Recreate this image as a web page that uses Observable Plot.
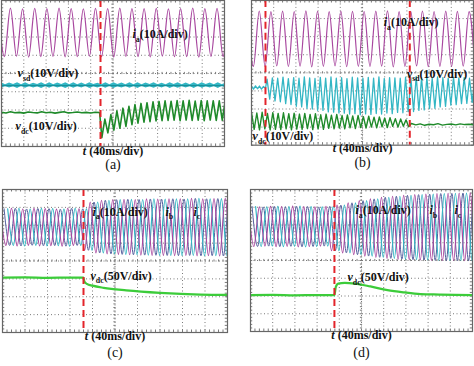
<!DOCTYPE html>
<html><head><meta charset="utf-8">
<script src="https://cdn.jsdelivr.net/npm/d3@7"></script>
<script src="https://cdn.jsdelivr.net/npm/@observablehq/plot@0.6"></script>
<style>
body{margin:0;background:#fff;}
#wrap{position:relative;width:474px;height:366px;overflow:hidden;background:#fff;}
.panel{position:absolute;}
.panel svg{display:block;}
.panel svg text{font-family:"Liberation Serif","Times New Roman",serif;}
</style></head><body><div id="wrap"></div>
<script>
// ---- oscilloscope grid (divisions) ----
const gridX = [1,2,3,4,5,6,7,8,9];
const gridY = [1,2,3,4,5,6,7];

// ---- panel (a) ----
const iaA_pk = [7.56,7.58,7.54,7.57,7.55,7.58,7.56,7.54,7.57,7.55,7.58,7.56,7.55,7.57,7.54,7.56,7.58,7.55,7.57,7.56];
const iaA_tr = [4.93,4.95,4.9,4.93,4.94,4.91,4.93,4.95,4.92,4.9,4.94,4.93,4.91,4.95,4.92,4.93,4.9,4.94,4.92,4.93];
const vsdA_mid = 3.34;
const vsdA_bead = [0.15,0.14,0.16,0.15,0.13,0.16,0.15,0.14,0.16,0.15,0.14,0.16,0.13,0.15,0.16,0.14,0.15,0.16,0.14,0.15,0.13,0.16,0.15,0.14,0.16,0.15,0.14,0.16,0.15];
const vsdA_neck = [0.05,0.06,0.04,0.05,0.06,0.05,0.04,0.06,0.05,0.05,0.04,0.06,0.05,0.04,0.06,0.05,0.05,0.04,0.06,0.05,0.04,0.06,0.05,0.05,0.04,0.06,0.05,0.04];
const vdcA_pre = [1.88,1.84,1.9,1.85,1.87,1.83,1.89,1.86,1.84,1.9,1.85,1.88,1.83,1.87,1.9,1.84,1.86,1.89,1.85,1.87,1.84,1.88,1.86];
const vdcA_post = [0.49,1.5,0.75,1.75,0.9,1.95,1.0,2.1,1.1,2.2,1.2,2.3,1.28,2.36,1.33,2.4,1.36,2.45,1.4,2.47,1.42,2.5,1.43,2.48,1.44,2.52,1.42,2.5,1.45,2.53,1.43,2.49,1.44,2.52,1.42,2.5,1.45,2.51,1.43,2.5,1.44,2.52];
const stepA = [4.44];

// ---- panel (b) ----
const iaB_pk = [7.4,7.42,7.38,7.41,7.39,7.43,7.4,7.38,7.42,7.4,7.39,7.41,7.43,7.38,7.4,7.42,7.39,7.41,7.4,7.38];
const iaB_tr = [4.36,4.34,4.38,4.35,4.37,4.33,4.36,4.38,4.34,4.36,4.35,4.37,4.33,4.36,4.38,4.34,4.36,4.35,4.37,4.36];
const vsdB_pre = [3.26,3.1,3.28,3.12,3.27,3.1,3.25,3.14];
const vsdB_pk = [3.65,3.72,3.7,3.76,3.68,3.74,3.7,3.78,3.72,3.69,3.75,3.71,3.77,3.7,3.73,3.68,3.76,3.72,3.7,3.75,3.71,3.78,3.69,3.74,3.72,3.7,3.76,3.73,3.8,3.72,3.75,3.7,3.77,3.73,3.71,3.76,3.72,3.74,3.7,3.75];
const vsdB_tr = [2.55,2.45,2.4,2.3,2.25,2.15,2.12,2.03,2.0,1.93,1.92,1.84,1.83,1.78,1.77,1.72,1.74,1.68,1.73,1.7,1.75,1.72,1.78,1.74,1.81,1.79,1.85,1.86,1.92,1.95,2.02,2.04,2.12,2.14,2.21,2.24,2.3,2.31,2.37,2.36];
const vdcB_pk = [1.8,1.78,1.82,1.75,1.8,1.76,1.79,1.74,1.77,1.72,1.76,1.7,1.74,1.68,1.72,1.66,1.7,1.64,1.67,1.62,1.64,1.58,1.6,1.55,1.56,1.5,1.52,1.46,1.45,1.4];
const vdcB_tr = [0.88,0.85,0.9,0.84,0.88,0.86,0.9,0.85,0.89,0.87,0.92,0.86,0.9,0.88,0.93,0.9,0.95,0.9,0.96,0.92,0.97,0.95,1.0,0.96,1.02,0.98,1.04,1.0,1.05,1.02];
const vdcB_post = [1.2,1.12,1.18,1.1,1.16,1.13,1.19,1.11,1.15,1.17,1.12,1.18,1.14,1.16,1.13];
const stepB = [0.63, 7.13];

// ---- panel (c) ----
const ccPeakC = [6.92,6.95,6.91,6.94,6.93,6.9,6.95,6.92,7.3,7.4,7.43,7.45,7.44,7.47,7.46,7.48,7.47,7.5,7.48,7.49,7.5,7.48];
const ccTroughC = [4.87,4.84,4.88,4.85,4.86,4.83,4.87,4.6,4.45,4.4,4.37,4.35,4.33,4.32,4.31,4.3,4.31,4.29,4.3,4.28,4.3,4.29];
const vdcC_t = [0,1,2,3,3.6,3.64,3.75,4.0,4.5,5.5,7.0,8.8,10];
const vdcC_v = [3.07,3.08,3.06,3.07,3.07,2.85,2.72,2.62,2.5,2.36,2.22,2.12,2.1];
const stepC = [3.6];

// ---- panel (d) ----
const ccPeakD = [7.04,7.02,7.05,7.03,7.06,7.04,7.02,7.05,7.12,7.25,7.37,7.47,7.56,7.62,7.67,7.71,7.74,7.77,7.78,7.8,7.8,7.81];
const ccTroughD = [4.79,4.81,4.78,4.8,4.77,4.79,4.81,4.55,4.43,4.33,4.25,4.18,4.12,4.08,4.05,4.03,4.01,4.0,4.0,3.99,4.0,3.99];
const vdcD_t = [0,1,2,3,3.78,3.84,3.95,4.25,4.7,5.4,6.17,6.94,7.66,8.5,9.19,10];
const vdcD_v = [2.05,2.06,2.04,2.05,2.05,2.5,2.7,2.74,2.7,2.54,2.33,2.2,2.11,2.08,2.06,2.05];
const stepD = [3.78];

// ---- helpers: build time records from read values ----
function alt(t0, half, pk, tr){
  const out = [];
  for (let i = 0; i < pk.length; i++) {
    out.push({t: t0 + 2*i*half, v: pk[i]});
    if (i < tr.length) out.push({t: t0 + (2*i+1)*half, v: tr[i]});
  }
  return out;
}
function seq(t0, dt, vals){ return vals.map((v,i) => ({t: t0 + i*dt, v})); }
function pts(ts, vs){ return ts.map((t,i) => ({t, v: vs[i]})); }

const MAG = "#a8479f", CYAN = "#33b6c4", NAVY = "#55609e";
const DKGREEN = "#1f8a2a", GREEN = "#3ccc3a", RED = "#e3242b";
const FONT = "Liberation Serif";
const minorX = d3.range(0, 10.001, 0.2);
const minorY = d3.range(0, 8.001, 0.2);

function gridMarks(){
  const g = {stroke: "#7a7a7a", strokeWidth: 1};
  return [
    Plot.ruleX(gridX, {...g, strokeDasharray: "1,2.5"}),
    Plot.ruleY(gridY, {...g, strokeDasharray: "1,2.5"}),
    Plot.ruleX(minorX, {x: d => d, y1: 0, y2: 0.14, ...g}),
    Plot.ruleX(minorX, {x: d => d, y1: 7.86, y2: 8, ...g}),
    Plot.ruleY(minorY, {y: d => d, x1: 0, x2: 0.1, ...g}),
    Plot.ruleY(minorY, {y: d => d, x1: 9.9, x2: 10, ...g}),
    Plot.ruleX(minorX, {x: d => d, y1: 3.94, y2: 4.06, ...g}),
    Plot.ruleY(minorY, {y: d => d, x1: 4.95, x2: 5.05, ...g})
  ];
}

function richText(svg){
  d3.select(svg).selectAll("text").each(function(){
    const s = this.textContent;
    if (!/[*_]/.test(s)) return;
    const el = d3.select(this);
    el.text(null);
    const re = /\*([^*]+)\*|_([^_]+)_|([^*_]+)/g;
    let m, shifted = false;
    while ((m = re.exec(s))) {
      let t;
      if (m[1]) t = el.append("tspan").attr("font-style", "italic").text(m[1]);
      else if (m[2]) { t = el.append("tspan").attr("font-size", "66%").attr("dy", "0.45em").text(m[2]); }
      else t = el.append("tspan").text(m[3]);
      if (m[2]) { shifted = true; }
      else if (shifted) { t.attr("dy", "-0.297em"); shifted = false; }
    }
  });
}

function panel(cfg){
  const {left, top, W, H, mb} = cfg;
  const chart = Plot.plot({
    width: W + 2, height: H + 1 + mb,
    marginLeft: 1, marginRight: 1, marginTop: 1, marginBottom: mb,
    x: {domain: [0, 10], axis: null},
    y: {domain: [0, 8], axis: null},
    style: {background: "transparent", fontFamily: FONT, color: "#111", overflow: "visible"},
    marks: [
      ...gridMarks(),
      ...cfg.marks,
      Plot.ruleX(cfg.steps, {stroke: RED, strokeWidth: 2, strokeDasharray: "7,4"}),
      Plot.frame({stroke: "#666", strokeWidth: 1.2}),
      Plot.text(cfg.labels, {x: "x", y: "y", text: "s", textAnchor: "start", fontWeight: "bold", fontSize: 12, fontFamily: FONT, fill: "#111"}),
      Plot.text(["*t* (40ms/div)"], {frameAnchor: "bottom", dy: cfg.tdy, fontWeight: "bold", fontSize: 12, fontFamily: FONT, fill: "#111"}),
      Plot.text([cfg.letter], {frameAnchor: "bottom", dy: cfg.ldy, fontSize: 14, fontFamily: FONT, fill: "#111"})
    ]
  });
  richText(chart);
  const div = document.createElement("div");
  div.className = "panel";
  div.style.left = left + "px";
  div.style.top = top + "px";
  div.appendChild(chart);
  document.getElementById("wrap").appendChild(div);
}

const L = (data, stroke, w, curve) => Plot.line(data, {x: "t", y: "v", stroke, strokeWidth: w, curve: curve || "linear", clip: true});

// (a)
const vsdA = alt(0, 0.18, vsdA_bead, vsdA_neck);
panel({
  left: 0, top: -1, W: 223, H: 146, mb: 30, tdy: 8, ldy: 22, letter: "(a)", steps: stepA,
  marks: [
    L(alt(-0.145, 0.2725, iaA_pk, iaA_tr), MAG, 1.2, "monotone-x"),
    Plot.areaY(vsdA, {x: "t", y1: d => vsdA_mid - d.v, y2: d => vsdA_mid + d.v, fill: CYAN, clip: true}),
    Plot.lineY(vsdA, {x: "t", y: () => vsdA_mid, stroke: "#1a8f9a", strokeWidth: 1.2, clip: true}),
    L([...seq(0, 0.2, vdcA_pre), ...seq(4.5, 0.135, vdcA_post)], DKGREEN, 1.6)
  ],
  labels: [
    {x: 5.87, y: 6.14, s: "*i*_a_(10A/div)"},
    {x: 0.72, y: 4.0, s: "*v*_sd_(10V/div)"},
    {x: 0.63, y: 1.1, s: "*v*_dc_(10V/div)"}
  ]
});

// (b)
panel({
  left: 250, top: -1, W: 224, H: 146, mb: 30, tdy: 7, ldy: 22, letter: "(b)", steps: stepB,
  marks: [
    L(alt(-0.175, 0.2625, iaB_pk, iaB_tr), MAG, 1.2, "monotone-x"),
    L([...seq(0, 0.09, vsdB_pre), ...alt(0.7, 0.12, vsdB_pk, vsdB_tr)], CYAN, 1.3),
    L([...alt(0, 0.12, vdcB_pk, vdcB_tr), ...seq(7.2, 0.2, vdcB_post)], DKGREEN, 1.4)
  ],
  labels: [
    {x: 5.96, y: 6.79, s: "*i*_a_(10A/div)"},
    {x: 7.0, y: 3.95, s: "*v*_sd_(10V/div)"},
    {x: 0.05, y: 0.49, s: "*v*_dc_(10V/div)"}
  ]
});

// (c)
panel({
  left: 1, top: 188, W: 225, H: 143, mb: 32, tdy: 7, ldy: 24, letter: "(c)", steps: stepC,
  marks: [
    L(alt(0.07, 0.25, ccPeakC, ccTroughC), NAVY, 1.0, "monotone-x"),
    L(alt(0.23, 0.25, ccPeakC, ccTroughC), CYAN, 1.2, "monotone-x"),
    L(alt(-0.1, 0.25, ccPeakC, ccTroughC), MAG, 1.2, "monotone-x"),
    L(pts(vdcC_t, vdcC_v), GREEN, 2.2, "monotone-x")
  ],
  labels: [
    {x: 4.0, y: 6.76, s: "*i*_a_(10A/div)"},
    {x: 7.24, y: 6.76, s: "*i*_b_"},
    {x: 8.49, y: 6.76, s: "*i*_c_"},
    {x: 3.91, y: 3.18, s: "*v*_dc_(50V/div)"}
  ]
});

// (d)
panel({
  left: 249, top: 188, W: 222, H: 142, mb: 34, tdy: 7, ldy: 25, letter: "(d)", steps: stepD,
  marks: [
    L(alt(0.07, 0.25, ccPeakD, ccTroughD), NAVY, 1.0, "monotone-x"),
    L(alt(0.23, 0.25, ccPeakD, ccTroughD), CYAN, 1.2, "monotone-x"),
    L(alt(-0.1, 0.25, ccPeakD, ccTroughD), MAG, 1.2, "monotone-x"),
    L(pts(vdcD_t, vdcD_v), GREEN, 2.2, "monotone-x")
  ],
  labels: [
    {x: 4.73, y: 6.82, s: "*i*_a_(10A/div)"},
    {x: 8.06, y: 6.82, s: "*i*_b_"},
    {x: 9.19, y: 6.82, s: "*i*_c_"},
    {x: 4.37, y: 3.04, s: "*v*_dc_(50V/div)"}
  ]
});
</script></body></html>
